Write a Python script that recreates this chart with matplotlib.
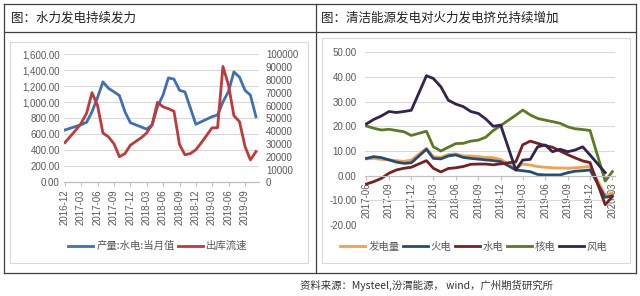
import numpy as np
import pandas as pd
import matplotlib
matplotlib.use('Agg')
import matplotlib.pyplot as plt
import matplotlib.dates as mdates
from matplotlib.lines import Line2D
from matplotlib.patches import Rectangle
from matplotlib.ticker import FuncFormatter, MultipleLocator

plt.rcParams['font.family'] = ['Liberation Sans', 'Noto Sans CJK SC', 'DejaVu Sans']
CJK = ['Noto Sans CJK SC', 'DejaVu Sans']

W, H = 640, 296

# ---- left chart data: hydro output (left axis) and outflow rate (right axis)
hydro_dates = ['2016-12',
               '2017-03', '2017-04', '2017-05', '2017-06', '2017-07', '2017-08', '2017-09', '2017-10', '2017-11', '2017-12',
               '2018-03', '2018-04', '2018-05', '2018-06', '2018-07', '2018-08', '2018-09', '2018-10', '2018-11', '2018-12',
               '2019-03', '2019-04', '2019-05', '2019-06', '2019-07', '2019-08', '2019-09', '2019-10', '2019-11']
hydro_output = [654,
                720, 750, 880, 1060, 1255, 1175, 1130, 1085, 880, 745,
                665, 715, 945, 1090, 1305, 1290, 1150, 1130, 925, 725,
                820, 842, 1005, 1135, 1380, 1315, 1150, 1090, 820]

flow_dates = ['2016-12',
              '2017-01', '2017-02', '2017-03', '2017-04', '2017-05', '2017-06', '2017-07', '2017-08', '2017-09', '2017-10', '2017-11', '2017-12',
              '2018-01', '2018-02', '2018-03', '2018-04', '2018-05', '2018-06', '2018-07', '2018-08', '2018-09', '2018-10', '2018-11', '2018-12',
              '2019-01', '2019-02', '2019-03', '2019-04', '2019-05', '2019-06', '2019-07', '2019-08', '2019-09', '2019-10', '2019-11']
outflow = [31000,
           36000, 41000, 46000, 54000, 70000, 60000, 38500, 35500, 30000, 20000, 22500, 29000,
           32000, 35000, 38500, 45000, 62500, 59000, 57500, 55500, 29500, 21500, 22500, 25500,
           31000, 37000, 42500, 42700, 90500, 76000, 52000, 47500, 28000, 17500, 24000]

left_ticks = ['2016-12', '2017-03', '2017-06', '2017-09', '2017-12', '2018-03', '2018-06',
              '2018-09', '2018-12', '2019-03', '2019-06', '2019-09']

# ---- right chart data: yoy growth (%) of generation by source
gen_dates = ['2017-06', '2017-07', '2017-08', '2017-09', '2017-10', '2017-11', '2017-12',
             '2018-02', '2018-03', '2018-04', '2018-05', '2018-06', '2018-07', '2018-08', '2018-09', '2018-10', '2018-11', '2018-12',
             '2019-02', '2019-03', '2019-04', '2019-05', '2019-06', '2019-07', '2019-08', '2019-09', '2019-10', '2019-11', '2019-12',
             '2020-02', '2020-03']
total_gen = [6.8, 7.0, 6.6, 6.4, 6.1, 5.8, 6.3,
             11.1, 7.7, 7.4, 8.6, 8.8, 8.0, 8.0, 7.7, 7.4, 7.3, 6.6,
             2.9, 4.7, 4.3, 3.7, 3.4, 3.2, 3.1, 3.0, 3.2, 3.4, 3.7,
             -7.8, -7.1]
thermal = [7.0, 7.7, 7.3, 6.4, 5.5, 5.0, 5.2,
           10.7, 7.0, 6.8, 8.0, 8.4, 7.4, 7.0, 6.7, 6.4, 6.1, 5.7,
           2.3, 2.0, 1.6, 0.5, 0.3, 0.3, 0.3, 1.2, 1.8, 2.0, 2.3,
           -8.8, -8.2]
hydro = [-3.4, -2.4, -1.1, 1.0, 2.3, 3.0, 3.4,
         6.1, 3.0, 1.5, 2.9, 3.2, 3.7, 4.6, 4.7, 4.7, 4.4, 4.8,
         5.6, 12.5, 14.0, 13.1, 12.2, 11.5, 10.0, 8.5, 7.2, 6.0, 5.3,
         -11.8, -8.5]
nuclear = [20.1, 19.2, 18.5, 18.8, 18.3, 17.8, 16.3,
           18.0, 11.7, 10.0, 11.5, 13.0, 13.1, 14.0, 14.4, 15.6, 18.3, 20.3,
           24.5, 26.6, 24.6, 23.2, 22.5, 21.9, 21.2, 19.8, 19.0, 18.7, 18.3,
           -2.2, 1.6]
wind = [21.0, 22.8, 24.2, 26.0, 25.6, 26.0, 26.5,
        40.5, 39.4, 36.0, 30.6, 29.0, 28.0, 26.0, 25.2, 23.0, 20.0, 20.5,
        2.3, 6.3, 6.6, 11.7, 12.4, 9.7, 10.7, 9.7, 10.4, 11.7, 8.4,
        1.2, np.nan]

right_ticks = ['2017-06', '2017-09', '2017-12', '2018-03', '2018-06', '2018-09',
               '2018-12', '2019-03', '2019-06', '2019-09', '2019-12', '2020-03']

fig = plt.figure(figsize=(W / 100, H / 100), dpi=100)


def px_axes(x0, y0, x1, y1):
    # pixel box (top-left origin) -> figure axes
    return fig.add_axes([x0 / W, 1 - y1 / H, (x1 - x0) / W, (y1 - y0) / H])


def fig_line(x0, y0, x1, y1, color='#404040', lw=0.9):
    fig.add_artist(Line2D([x0 / W, x1 / W], [1 - y0 / H, 1 - y1 / H], color=color, lw=lw))


# table frame
fig_line(4, 4, 636, 4)
fig_line(4, 32, 636, 32)
fig_line(4, 273, 636, 273)
fig_line(4, 4, 4, 273)
fig_line(636, 4, 636, 273)
fig_line(316, 4, 316, 273)

# chart boxes
for (x0, y0, x1, y1) in [(10, 42, 308, 263), (322, 38, 630, 263)]:
    fig.add_artist(Rectangle((x0 / W, 1 - y1 / H), (x1 - x0) / W, (y1 - y0) / H,
                             fill=False, edgecolor='#D9D9D9', lw=0.8))

fig.text(11 / W, 1 - 18 / H, '图：水力发电持续发力', family=CJK, fontsize=9, va='center', color='#222222')
fig.text(321 / W, 1 - 18 / H, '图：清洁能源发电对火力发电挤兑持续增加', family=CJK, fontsize=9, va='center', color='#222222')
fig.text(300 / W, 1 - 285 / H, '资料来源：Mysteel,汾渭能源， wind，广州期货研究所', family=CJK, fontsize=7.5,
         va='center', color='#333333')

tick_color = '#595959'
grid_color = '#D9D9D9'

# ---- left chart
ax = px_axes(64, 54.3, 259, 182.3)
bd = pd.to_datetime(hydro_dates)
fd = pd.to_datetime(flow_dates)
ax.plot(bd, hydro_output, color='#3D70B5', lw=2.0, label='产量:水电:当月值', zorder=3)
ax2 = ax.twinx()
ax2.plot(fd, outflow, color='#C0393B', lw=2.0, label='出库流速', zorder=3)
ax.set_ylim(0, 1600)
ax.yaxis.set_major_locator(MultipleLocator(200))
ax.yaxis.set_major_formatter(FuncFormatter(lambda v, p: f'{v:,.2f}'))
ax2.set_ylim(0, 100000)
ax2.yaxis.set_major_locator(MultipleLocator(10000))
ax2.yaxis.set_major_formatter(FuncFormatter(lambda v, p: f'{int(v)}'))
ax.set_xlim(pd.Timestamp('2016-11-26'), pd.Timestamp('2019-11-18'))
ax.set_xticks(pd.to_datetime(left_ticks))
ax.xaxis.set_major_formatter(mdates.DateFormatter('%Y-%m'))
ax.grid(axis='y', color=grid_color, lw=0.8)
ax.set_axisbelow(True)
for a in (ax, ax2):
    for s in ('top', 'left', 'right'):
        a.spines[s].set_visible(False)
    a.spines['bottom'].set_color('#BFBFBF')
ax.tick_params(axis='y', length=0, labelsize=7, labelcolor=tick_color, pad=3)
ax2.tick_params(axis='y', length=0, labelsize=7, labelcolor=tick_color, pad=5)
ax.tick_params(axis='x', length=3, color='#BFBFBF', labelsize=7, labelcolor=tick_color, rotation=90, pad=2)

h1, l1 = ax.get_legend_handles_labels()
h2, l2 = ax2.get_legend_handles_labels()
fig.legend(h1 + h2, l1 + l2, loc='center', bbox_to_anchor=(158 / W, 1 - 246 / H), ncol=2, frameon=False,
           prop={'family': CJK, 'size': 7.5}, handlelength=2.4, handletextpad=0.3, columnspacing=0.3,
           labelcolor=tick_color)

# ---- right chart
axr = px_axes(365, 52.3, 615, 225)
gd = pd.to_datetime(gen_dates)
series = [('发电量', total_gen, '#F4A04A'), ('火电', thermal, '#1F4E7D'), ('水电', hydro, '#7A1F1F'),
          ('核电', nuclear, '#5B7A22'), ('风电', wind, '#33234F')]
for name, vals, col in series:
    axr.plot(gd, vals, color=col, lw=2.0, label=name)
axr.set_ylim(-20, 50)
axr.yaxis.set_major_locator(MultipleLocator(10))
axr.yaxis.set_major_formatter(FuncFormatter(lambda v, p: f'{v:.2f}'))
axr.set_xlim(pd.Timestamp('2017-05-26'), pd.Timestamp('2020-03-12'))
axr.set_xticks(pd.to_datetime(right_ticks))
axr.xaxis.set_major_formatter(mdates.DateFormatter('%Y-%m'))
axr.grid(axis='y', color=grid_color, lw=0.8)
axr.set_axisbelow(True)
for s in ('top', 'left', 'right'):
    axr.spines[s].set_visible(False)
axr.spines['bottom'].set_position(('data', 0))
axr.spines['bottom'].set_color('#BFBFBF')
axr.tick_params(axis='y', length=0, labelsize=7, labelcolor=tick_color, pad=6)
axr.tick_params(axis='x', length=3, color='#BFBFBF', labelsize=7, labelcolor=tick_color, rotation=90, pad=2)

axr.legend(loc='center', bbox_to_anchor=((474 - 365) / 250, (225 - 247) / 172.7), ncol=5, frameon=False,
           prop={'family': CJK, 'size': 7.5}, handlelength=2.4, handletextpad=0.3, columnspacing=0.3,
           labelcolor=tick_color)

fig.savefig('out.png', dpi=100)
